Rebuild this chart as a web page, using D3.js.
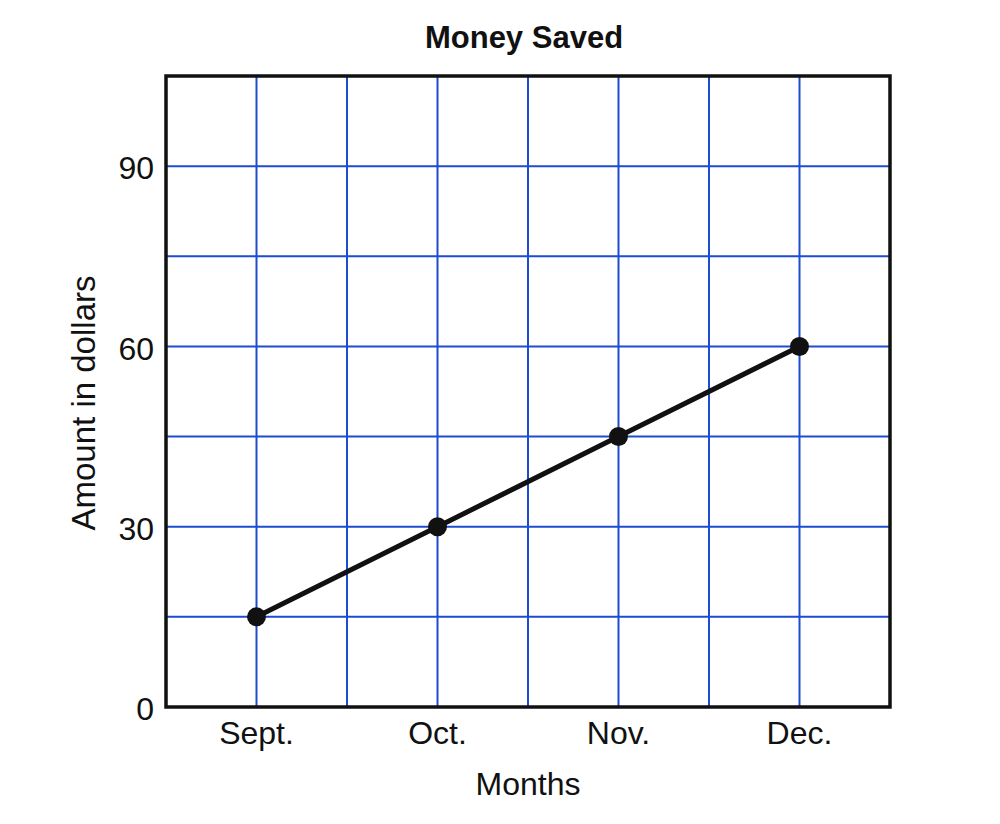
<!DOCTYPE html>
<html><head><meta charset="utf-8">
<script src="https://cdn.jsdelivr.net/npm/d3@7"></script>
<style>body{margin:0;background:#fff}svg{display:block}</style>
</head><body><svg id="c" width="1000" height="824"></svg>
<script>
const months = ["Sept.", "Oct.", "Nov.", "Dec."];
const amounts = [15, 30, 45, 60];
const yTicks = [0, 30, 60, 90];
const yGrid = [15, 30, 45, 60, 75, 90];
const xGrid = [0, 0.5, 1, 1.5, 2, 2.5, 3];

const svg = d3.select("#c");
const L = 166, R = 890, T = 76, B = 707;
const x = d3.scaleLinear().domain([-0.5, 3.5]).range([L, R]);
const y = d3.scaleLinear().domain([0, 105]).range([B, T]);
const font = "'Liberation Sans', Arial, sans-serif";

svg.append("text").attr("x", 524).attr("y", 48).attr("text-anchor", "middle")
  .attr("font-family", font).attr("font-weight", "bold").attr("font-size", 31)
  .attr("fill", "#111").text("Money Saved");

const grid = svg.append("g").attr("stroke", "#1c4ccf").attr("stroke-width", 2);
grid.selectAll("line.v").data(xGrid).join("line").attr("class", "v")
  .attr("x1", d => x(d)).attr("x2", d => x(d)).attr("y1", T).attr("y2", B);
grid.selectAll("line.h").data(yGrid).join("line").attr("class", "h")
  .attr("x1", L).attr("x2", R).attr("y1", d => y(d)).attr("y2", d => y(d));

svg.append("rect").attr("x", L).attr("y", T).attr("width", R - L).attr("height", B - T)
  .attr("fill", "none").attr("stroke", "#111").attr("stroke-width", 3.5);

svg.append("g").selectAll("text").data(yTicks).join("text")
  .attr("x", 154).attr("y", d => y(d) + 2).attr("dy", "0.35em").attr("text-anchor", "end")
  .attr("font-family", font).attr("font-size", 32).attr("fill", "#111").text(d => d);

svg.append("g").selectAll("text").data(months).join("text")
  .attr("x", (d, i) => x(i)).attr("y", 744).attr("text-anchor", "middle")
  .attr("font-family", font).attr("font-size", 32).attr("fill", "#111").text(d => d);

svg.append("text").attr("x", 528).attr("y", 795).attr("text-anchor", "middle")
  .attr("font-family", font).attr("font-size", 32).attr("fill", "#111").text("Months");

svg.append("text").attr("transform", "translate(95,403) rotate(-90)").attr("text-anchor", "middle")
  .attr("font-family", font).attr("font-size", 33).attr("fill", "#111").text("Amount in dollars");

const line = d3.line().x((d, i) => x(i)).y(d => y(d));
svg.append("path").datum(amounts).attr("d", line).attr("fill", "none")
  .attr("stroke", "#111").attr("stroke-width", 5);
svg.append("g").selectAll("circle").data(amounts).join("circle")
  .attr("cx", (d, i) => x(i)).attr("cy", d => y(d)).attr("r", 9.5).attr("fill", "#111");
</script></body></html>
